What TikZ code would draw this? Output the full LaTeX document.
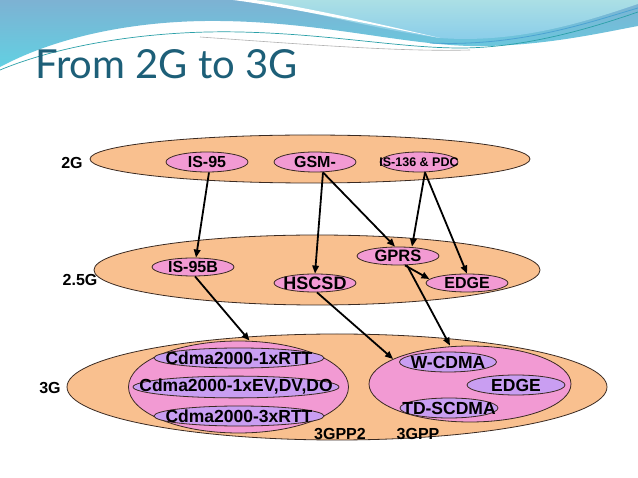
\documentclass[tikz,border=0pt]{standalone}
\usepackage{fontspec}
\setmainfont{Liberation Sans}
\newfontfamily\titlefont{Lato}
\usetikzlibrary{shapes.geometric,arrows.meta}
\definecolor{peach}{HTML}{F9C08F}
\definecolor{pinkf}{HTML}{F29AD3}
\definecolor{purp}{HTML}{C99EF2}
\definecolor{titlec}{HTML}{1D5F78}
\definecolor{edgec}{HTML}{3A2A22}
\definecolor{hdA}{HTML}{7DB2D3}
\definecolor{hdB}{HTML}{62D0E2}
\definecolor{hdC}{HTML}{ABDFE5}
\definecolor{hdD}{HTML}{86CBEA}
\definecolor{hdE}{HTML}{4BA3D2}
\definecolor{hdF}{HTML}{2BA0A8}
\begin{document}
\begin{tikzpicture}[x=1pt,y=-1pt,
  big/.style={ellipse, draw=edgec, line width=0.8pt, fill=peach, inner sep=0pt},
  pk/.style={ellipse, draw=edgec, line width=0.8pt, fill=pinkf, inner sep=0pt},
  pu/.style={ellipse, draw=edgec, line width=0.8pt, fill=purp, inner sep=0pt},
  lbl/.style={font=\bfseries\fontsize{16}{16}\selectfont, inner sep=0pt},
  lbs/.style={font=\bfseries\fontsize{17.5}{17.5}\selectfont},
  arr/.style={-{Triangle[length=8pt,width=6.5pt]}, line width=1.8pt, black}]
\useasboundingbox (0,0) rectangle (638,478);
\fill[white] (0,0) rectangle (638,478);
% header decoration
\shade[top color=hdA, bottom color=hdB]
  (0,0) -- (0,67) .. controls (60,35) and (140,20) .. (220,21)
  .. controls (320,22) and (400,44) .. (470,46)
  .. controls (540,47) and (600,33) .. (638,26) -- (638,0) -- cycle;
\shade[top color=hdC, bottom color=hdD]
  (252,0) .. controls (320,14) and (380,30) .. (440,38)
  .. controls (520,44) and (590,20) .. (638,4) -- (638,0) -- cycle;
\fill[white] (233,0) .. controls (280,6) and (360,22) .. (440,38)
  .. controls (380,24) and (300,6) .. (255,0) -- cycle;
\draw[hdE, line width=0.8pt] (430,43) .. controls (520,47) and (590,22) .. (638,8);
\draw[hdF, line width=0.7pt] (0,70) .. controls (60,45) and (150,30) .. (240,32)
  .. controls (330,34) and (400,48) .. (460,48) .. controls (530,48) and (600,25) .. (638,12);
\draw[gray!60, line width=0.6pt] (200,37) .. controls (300,44) and (400,52) .. (470,50);
\node[anchor=base west, text=titlec, font=\titlefont\fontsize{40}{40}\selectfont, inner sep=0pt] (title) at (35,79) {From 2G to 3G};
% big ellipses
\node[big, minimum width=440pt, minimum height=48pt] (g2) at (310,159) {};
\node[big, minimum width=446pt, minimum height=70pt] (g25) at (317,270) {};
\node[big, minimum width=540pt, minimum height=106pt] (g3) at (337,387) {};
% 2G
\node[pk, minimum width=82pt, minimum height=20pt, font=\bfseries\fontsize{16}{16}\selectfont] (is95) at (207,162) {\makebox[0pt]{IS-95}};
\node[pk, minimum width=82pt, minimum height=20pt, font=\bfseries\fontsize{16}{16}\selectfont] (gsm) at (315,162) {\makebox[0pt]{GSM-}};
\node[pk, minimum width=78pt, minimum height=20pt, font=\bfseries\fontsize{12.5}{12.5}\selectfont] (is136) at (419,162) {\makebox[0pt]{IS-136 \& PDC}};
% 2.5G
\node[pk, minimum width=82pt, minimum height=18pt, font=\bfseries\fontsize{16}{16}\selectfont] (is95b) at (193,267) {\makebox[0pt]{IS-95B}};
\node[pk, minimum width=82pt, minimum height=18pt, font=\bfseries\fontsize{18}{18}\selectfont] (hscsd) at (315,283) {\makebox[0pt]{HSCSD}};
\node[pk, minimum width=82pt, minimum height=18pt, font=\bfseries\fontsize{16.5}{16.5}\selectfont] (gprs) at (398,256) {\makebox[0pt]{GPRS}};
\node[pk, minimum width=82pt, minimum height=18pt, font=\bfseries\fontsize{16}{16}\selectfont] (edge25) at (467,283) {\makebox[0pt]{EDGE}};
% 3G
\node[pk, minimum width=220pt, minimum height=92pt] (pinkL) at (238.5,387) {};
\node[pk, minimum width=202pt, minimum height=76pt] (pinkR) at (470,384) {};
\node[pu, lbs, minimum width=170pt, minimum height=20pt] (c1) at (239,358) {\makebox[0pt]{Cdma2000-1xRTT}};
\node[pu, lbs, minimum width=206pt, minimum height=20pt] (c2) at (236,387) {\makebox[0pt]{Cdma2000-1xEV,DV,DO}};
\node[pu, lbs, minimum width=170pt, minimum height=20pt] (c3) at (239,416) {\makebox[0pt]{Cdma2000-3xRTT}};
\node[pu, lbs, minimum width=97pt, minimum height=20pt] (wc) at (448,362) {\makebox[0pt]{W-CDMA}};
\node[pu, lbs, minimum width=98pt, minimum height=20pt] (ed3) at (516,385) {\makebox[0pt]{EDGE}};
\node[pu, lbs, minimum width=98pt, minimum height=20pt] (td) at (449,408) {\makebox[0pt]{TD-SCDMA}};
% labels
\node[lbl] (l2g) at (72,163) {2G};
\node[lbl] (l25g) at (80,280) {2.5G};
\node[lbl] (l3g) at (50,388) {3G};
\node[lbl] (l3gpp2) at (340,434) {3GPP2};
\node[lbl] (l3gpp) at (418,434) {3GPP};
% arrows
\draw[arr] ([xshift=2pt]is95.south) -- ([xshift=3pt]is95b.north);
\draw[arr] ([xshift=8pt]gsm.south) -- (hscsd.north);
\draw[arr] ([xshift=8pt]gsm.south) -- ([xshift=-3pt]gprs.north);
\draw[arr] ([xshift=6pt]is136.south) -- ([xshift=14pt]gprs.north);
\draw[arr] ([xshift=6pt]is136.south) -- (edge25.north);
\draw[arr] ([xshift=7pt]gprs.south) -- (edge25.174);
\draw[arr] ([xshift=9pt]gprs.south) -- ([xshift=-20pt]pinkR.north);
\draw[arr] ([xshift=2pt]is95b.south) -- ([xshift=11pt]pinkL.north);
\draw[arr] ([xshift=2pt]hscsd.south) -- (pinkR.162);
\end{tikzpicture}
\end{document}
